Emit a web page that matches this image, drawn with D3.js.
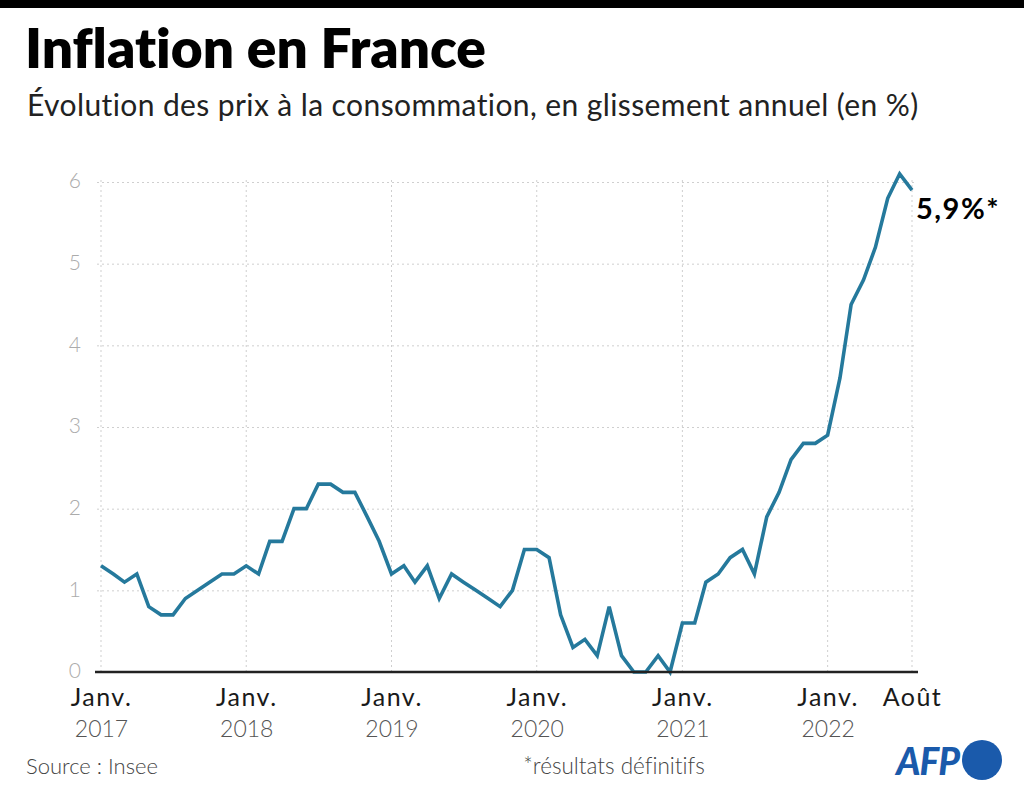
<!DOCTYPE html>
<html>
<head>
<meta charset="utf-8">
<script src="https://cdn.jsdelivr.net/npm/d3@7"></script>
<style>
  body { margin: 0; background: #fff; }
  svg { display: block; font-family: Lato, "Noto Sans", sans-serif; font-variant-ligatures: none; }
</style>
</head>
<body>
<svg></svg>
<script>
// annual inflation, monthly, Jan 2017 -> Aug 2022
const years = [2017, 2018, 2019, 2020, 2021, 2022]
const values2017 = [1.3, 1.2, 1.1, 1.2, 0.8, 0.7, 0.7, 0.9, 1.0, 1.1, 1.2, 1.2]
const values2018 = [1.3, 1.2, 1.6, 1.6, 2.0, 2.0, 2.3, 2.3, 2.2, 2.2, 1.9, 1.6]
const values2019 = [1.2, 1.3, 1.1, 1.3, 0.9, 1.2, 1.1, 1.0, 0.9, 0.8, 1.0, 1.5]
const values2020 = [1.5, 1.4, 0.7, 0.3, 0.4, 0.2, 0.8, 0.2, 0.0, 0.0, 0.2, 0.0]
const values2021 = [0.6, 0.6, 1.1, 1.2, 1.4, 1.5, 1.2, 1.9, 2.2, 2.6, 2.8, 2.8]
const values2022 = [2.9, 3.6, 4.5, 4.8, 5.2, 5.8, 6.1, 5.9]
const yTicks = [0, 1, 2, 3, 4, 5, 6]
const lastLabel = '5,9%*'

const w = 1024
const h = 795
const xLeft = 101
const xRight = 912
const yTop = 182
const yBottom = 672

let dataset = []
;[values2017, values2018, values2019, values2020, values2021, values2022].forEach((arr, i) => {
    arr.forEach((v, m) => {
        dataset.push({ date: new Date(years[i], m, 1), value: v })
    })
})
const lastDate = dataset[dataset.length - 1].date

let svg = d3.select('svg').attr('width', w).attr('height', h)

// top black band
svg.append('rect').attr('x', 0).attr('y', 0).attr('width', w).attr('height', 8).attr('fill', '#000')

svg.append('text')
   .attr('x', 25).attr('y', 68)
   .style('font-size', '55px').style('font-weight', 800)
   .attr('fill', '#000')
   .text('Inflation en France')

svg.append('text')
   .attr('x', 27).attr('y', 116)
   .style('font-size', '30px')
   .style('letter-spacing', '0.4px')
   .attr('fill', '#222')
   .text('Évolution des prix à la consommation, en glissement annuel (en %)')

let xScale = d3.scaleTime()
               .domain([dataset[0].date, lastDate])
               .range([xLeft, xRight])

let yScale = d3.scaleLinear()
               .domain([0, 6])
               .range([yBottom, yTop])

let tickDates = years.map((y) => new Date(y, 0, 1)).concat([lastDate])

// vertical dotted grid
svg.append('g')
   .selectAll('line')
   .data(tickDates)
   .enter()
   .append('line')
   .attr('x1', (d) => xScale(d)).attr('x2', (d) => xScale(d))
   .attr('y1', yTop - 2).attr('y2', yBottom)
   .attr('stroke', '#cfcfcf')
   .attr('stroke-width', 1)
   .attr('stroke-dasharray', '2,3')

// y axis with horizontal grid
let yAxis = d3.axisLeft(yScale)
              .tickValues(yTicks)
              .tickSize(-(xRight + 4 - 97))
              .tickPadding(16)
              .tickFormat((d) => d)

let gy = svg.append('g')
            .attr('transform', 'translate(97, 0)')
            .call(yAxis)
gy.select('.domain').remove()
gy.selectAll('line')
  .attr('stroke', '#cfcfcf')
  .attr('stroke-dasharray', '2,3')
  .filter((d) => d === 0).remove()
gy.selectAll('text')
  .attr('fill', '#ababab')
  .attr('dy', '0.28em')
  .style('font-size', '21px')
  .style('font-family', 'Lato, sans-serif')
  .style('font-weight', 300)

// line
let line = d3.line()
             .x((d) => xScale(d.date))
             .y((d) => yScale(d.value))

svg.append('path')
   .datum(dataset)
   .attr('d', line)
   .attr('fill', 'none')
   .attr('stroke', '#25799c')
   .attr('stroke-width', 3.6)
   .attr('stroke-linejoin', 'miter')

// x axis
let xAxis = d3.axisBottom(xScale)
              .tickValues(tickDates)
              .tickSize(0)
              .tickPadding(0)
              .tickFormat('')

let gx = svg.append('g')
            .attr('transform', 'translate(0, ' + yBottom + ')')
            .call(xAxis)
gx.select('.domain').remove()
svg.append('line')
   .attr('x1', 95).attr('x2', xRight + 6)
   .attr('y1', yBottom).attr('y2', yBottom)
   .attr('stroke', '#222').attr('stroke-width', 2.5)

gx.selectAll('.tick').each(function(d, i) {
    let t = d3.select(this)
    let isLast = i === tickDates.length - 1
    t.append('text')
     .attr('y', 34)
     .attr('text-anchor', 'middle')
     .attr('fill', '#1a1a1a')
     .style('font-size', '25px')
     .style('letter-spacing', '1.5px')
     .style('font-family', 'Lato, sans-serif')
     .text(isLast ? 'Août' : 'Janv.')
    if (!isLast) {
        t.append('text')
         .attr('y', 65)
         .attr('text-anchor', 'middle')
         .attr('fill', '#555')
         .style('font-size', '23px')
         .style('font-family', 'Lato, sans-serif')
         .style('font-weight', 300)
         .text(d.getFullYear())
    }
})

// last value label
svg.append('text')
   .attr('x', xScale(lastDate) + 4)
   .attr('y', yScale(5.9) + 29)
   .style('font-size', '29px').style('font-weight', 700)
   .style('letter-spacing', '1.5px')
   .attr('fill', '#000')
   .text(lastLabel)

// footer
svg.append('text')
   .attr('x', 26).attr('y', 774)
   .style('font-size', '22px').style('font-weight', 300)
   .attr('fill', '#444')
   .text('Source : Insee')

svg.append('text')
   .attr('x', 614).attr('y', 774)
   .attr('text-anchor', 'middle')
   .style('font-size', '22.5px').style('font-weight', 300)
   .attr('fill', '#444')
   .text('*résultats définitifs')

// AFP logo
svg.append('text')
   .attr('x', 959).attr('y', 775)
   .attr('text-anchor', 'end')
   .style('font-size', '37px').style('font-weight', 900).style('font-style', 'italic')
   .style('letter-spacing', '-1px')
   .attr('fill', '#1a5aab')
   .text('AFP')
svg.append('circle')
   .attr('cx', 982).attr('cy', 760).attr('r', 20)
   .attr('fill', '#1a5aab')
</script>
</body>
</html>
